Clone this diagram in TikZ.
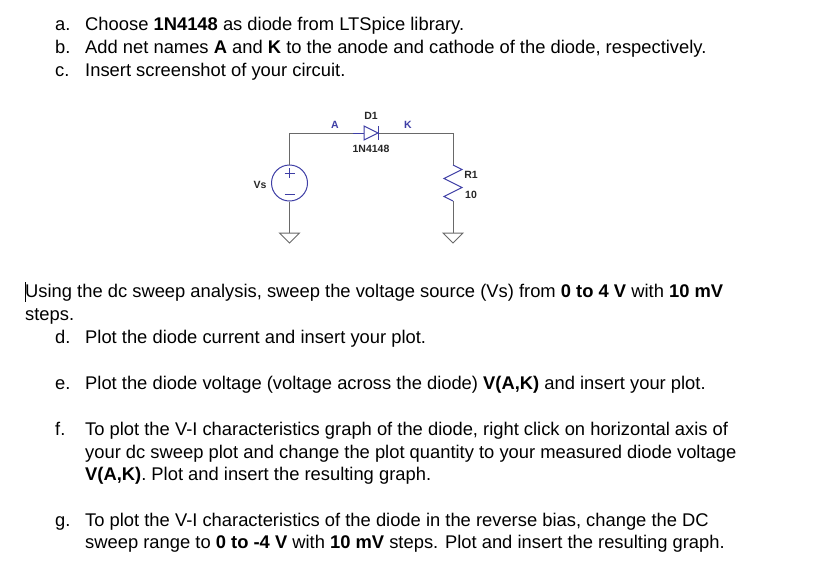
\documentclass[tikz,border=0pt]{standalone}
\usepackage{fontspec}
\setmainfont{Liberation Sans}
\definecolor{wirecol}{RGB}{105,105,105}
\definecolor{partcol}{RGB}{62,62,165}
\begin{document}
\begin{tikzpicture}[
		x = 1pt, y = -1pt,
		line/.style = {anchor=base west, inner sep=0pt, font=\fontsize{18.36}{22}\selectfont},
		wire/.style = {draw=wirecol, line width=1pt},
		part/.style = {draw=partcol, line width=1pt},
		netname/.style = {inner sep=0pt, text=partcol, font=\fontsize{10.5}{12}\selectfont\bfseries},
		partname/.style = {inner sep=0pt, text=black!85, font=\fontsize{10.5}{12}\selectfont\bfseries},
		ground/.style = {draw=wirecol, line width=1pt}]
		\useasboundingbox (0,0) rectangle (819,571);

		% list on top
		\node[line] (la) at (55,30) {a.};
		\node[line] (ta) at (85,30) {Choose \textbf{1N4148} as diode from LTSpice library.};
		\node[line] (lb) at (55,53) {b.};
		\node[line] (tb) at (85,53) {Add net names \textbf{A} and \textbf{K} to the anode and cathode of the diode, respectively.};
		\node[line] (lc) at (55,76) {c.};
		\node[line] (tc) at (85,76) {Insert screenshot of your circuit.};

		% circuit
		\coordinate (corner1) at (289.5,133);
		\coordinate (corner2) at (453,133);
		\coordinate (danode) at (353,133);
		\coordinate (dleft) at (364,133);
		\coordinate (dright) at (378,133);
		\coordinate (rtop) at (453,165);
		\coordinate (rbot) at (453,201);
		\coordinate (gnd1) at (289.5,233);
		\coordinate (gnd2) at (453,233);
		\node[circle, part, minimum size=36pt, inner sep=0pt] (vs) at (289.5,183) {};
		\draw[wire] (vs.north) -- (corner1) -- (danode);
		\draw[wire] (dright) -- (corner2) -- (rtop);
		\draw[wire] (vs.south) -- (gnd1);
		\draw[wire] (rbot) -- (gnd2);
		\draw[part] (danode) -- (dleft);
		\draw[part] (dleft) ++(0,-7) -- ++(14,7) -- ++(-14,7) -- cycle;
		\draw[part] (dright) ++(0,-7) -- ++(0,14);
		\draw[part] (rtop) -- ++(9,4.5) -- ++(-18,9) -- ++(18,9) -- ++(-18,9) -- (rbot);
		\draw[part] (284.5,173) -- (294.5,173) (289.5,168) -- (289.5,178);
		\draw[part] (284.5,194.5) -- (294.5,194.5);
		\draw[ground] (gnd1) ++(-10,0) -- ++(20,0) -- ++(-10,10) -- cycle;
		\draw[ground] (gnd2) ++(-10,0) -- ++(20,0) -- ++(-10,10) -- cycle;

		\node[netname] (netA) at (335,125) {A};
		\node[netname] (netK) at (408,124.5) {K};
		\node[partname] (d1) at (371,116) {D1};
		\node[partname] (d1val) at (371,149) {1N4148};
		\node[partname] (vsname) at (260,185) {Vs};
		\node[partname] (r1name) at (471,175) {R1};
		\node[partname] (r1val) at (471,195) {10};

		% text below
		\draw[black, line width=0.8pt] (25.5,282) -- (25.5,302);
		\node[line] (tu) at (25,297.5) {Using the dc sweep analysis, sweep the voltage source (Vs) from \textbf{0 to 4 V} with \textbf{10 mV}};
		\node[line] (ts) at (25,320) {steps.};
		\node[line] (ld) at (55,343) {d.};
		\node[line] (td) at (85,343) {Plot the diode current and insert your plot.};
		\node[line] (le) at (55,389) {e.};
		\node[line] (te) at (85,389) {Plot the diode voltage (voltage across the diode) \textbf{V(A,K)} and insert your plot.};
		\node[line] (lf) at (55,435) {f.};
		\node[line] (tf) at (85,435) {To plot the V-I characteristics graph of the diode, right click on horizontal axis of};
		\node[line] (tf2) at (85,458) {your dc sweep plot and change the plot quantity to your measured diode voltage};
		\node[line] (tf3) at (85,480) {\textbf{V(A,K)}. Plot and insert the resulting graph.};
		\node[line] (lg) at (55,526) {g.};
		\node[line] (tg) at (85,526) {To plot the V-I characteristics of the diode in the reverse bias, change the DC};
		\node[line] (tg2) at (85,548) {sweep range to \textbf{0 to -4 V} with \textbf{10 mV} steps. Plot and insert the resulting graph.};
\end{tikzpicture}
\end{document}
